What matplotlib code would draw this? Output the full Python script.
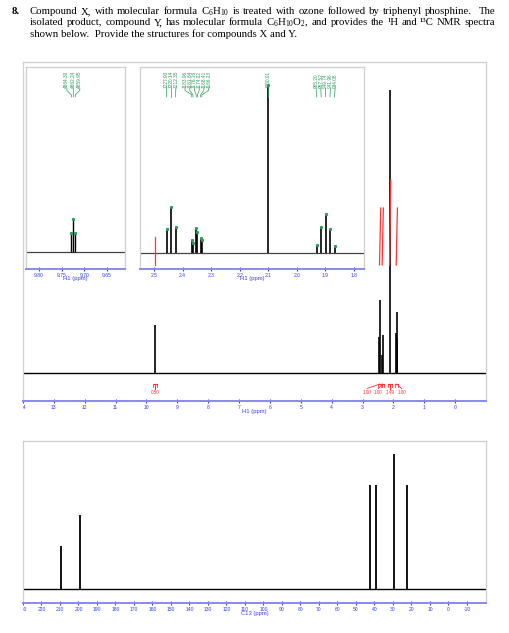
import matplotlib
matplotlib.use('Agg')
import matplotlib.pyplot as plt
from matplotlib.transforms import Bbox, TransformedBbox

plt.rcParams['font.family'] = ['Liberation Sans', 'DejaVu Sans']
plt.rcParams['mathtext.fontset'] = 'custom'
plt.rcParams['mathtext.rm'] = 'Liberation Serif'
plt.rcParams['mathtext.it'] = 'Liberation Serif:italic'

# 1H full spectrum (sticks, height in px above baseline)
h1_ppm = [9.724, 2.440, 2.456, 2.352, 2.372, 2.100, 1.899, 1.884, 1.915]
h1_height = [48, 73, 36, 38, 18, 283, 61, 35, 40]

# integrals
integ_center = [9.722, 2.440, 2.350, 2.100, 1.899]
integ_label = ['0.50', '1.00', '1.00', '1.49', '1.00']
integ_text_ppm = [9.72, 2.85, 2.49, 2.10, 1.73]
trace_ppm = [2.43, 2.345, 2.106, 1.89]
trace_top = [165, 165, 193, 165]

# insets: peak list in Hz at 500 MHz
freq = 500.0
ald_hz = [4864.30, 4862.24, 4859.95]
ald_height = [19, 33, 19]
ali_hz = [1227.93, 1220.14, 1212.35, 1183.96, 1181.84, 1176.16, 1174.02,
          1168.41, 1166.23, 1050.01, 965.20, 957.52, 949.74, 941.96, 934.08]
ali_height = [24, 46, 26, 13, 10, 25, 21, 15, 13, 168, 8, 26, 39, 24, 7]
ali_groups = [[0, 1, 2], [3, 4, 5, 6, 7, 8], [9], [10, 11, 12, 13, 14]]

# 13C
c13_ppm = [209.6, 199.2, 42.6, 39.4, 29.5, 22.4]
c13_height = [43, 74, 104, 104, 135, 104]

h1_ticks = list(range(14, -1, -1))
ald_ticks = [9.80, 9.75, 9.70, 9.65]
ali_ticks = [2.5, 2.4, 2.3, 2.2, 2.1, 2.0, 1.9, 1.8]
c13_ticks = list(range(230, -11, -10))

W, H = 509, 633
GREEN = '#2f9a5c'
RED = '#ff3535'
BLUE = '#3a3aee'
AXBLUE = '#8a8ae8'
GRAY = '#cfcfcf'
HEAD_FS = 7.75

fig = plt.figure(figsize=(W / 100, H / 100), dpi=100)


def box(x0, y0, x1, y1, z=1):
    return fig.add_axes([x0 / W, 1 - y1 / H, (x1 - x0) / W, (y1 - y0) / H], zorder=z)


def style(ax, ticks, labels, xlabel, fs=3.6, lpad=-1.5):
    for s in ['top', 'left', 'right']:
        ax.spines[s].set_color(GRAY)
        ax.spines[s].set_linewidth(0.9)
    ax.spines['bottom'].set_color(AXBLUE)
    ax.spines['bottom'].set_linewidth(1.4)
    ax.set_yticks([])
    ax.set_xticks(ticks)
    ax.set_xticklabels(labels)
    ax.tick_params(axis='x', direction='inout', length=3, width=0.8, color=BLUE,
                   labelsize=fs, labelcolor=BLUE, pad=1.5)
    ax.set_xlabel(xlabel, fontsize=fs + 0.6, color=BLUE, labelpad=lpad)
    clip = TransformedBbox(Bbox([[0, -1], [2, 0.1]]), ax.transAxes)
    for lab in ax.get_xticklabels():
        lab.set_clip_box(clip)
        lab.set_clip_on(True)


# header text, first two lines justified between x=30 and x=495
fig.text(12 / W, 1 - 11.5 / H, '8.', fontsize=HEAD_FS, family='Liberation Serif',
         fontweight='bold', va='center')
head = [r'Compound X, with molecular formula C$_{6}$H$_{10}$ is treated with ozone followed by triphenyl phosphine.  The',
        r'isolated product, compound Y, has molecular formula C$_{6}$H$_{10}$O$_{2}$, and provides the ¹H and ¹³C NMR spectra',
        'shown below.  Provide the structures for compounds X and Y.']
renderer = fig.canvas.get_renderer()
for i, line in enumerate(head):
    y = 1 - (11.5 + 11.2 * i) / H
    if i == 2:
        fig.text(30 / W, y, line, fontsize=HEAD_FS, family='Liberation Serif', va='center')
        continue
    words, units = [], []
    for tok in line.split(' '):
        if tok == '':
            units[-1] += 1
            continue
        words.append(fig.text(0, y, tok, fontsize=HEAD_FS, family='Liberation Serif',
                              va='center'))
        units.append(1)
    widths = [t.get_window_extent(renderer).width for t in words]
    gap = (465 - sum(widths)) / sum(units[:-1])
    x = 30.0
    for t, w, u in zip(words, widths, units):
        t.set_x(x / W)
        x += w + gap * u

# main 1H
ax = box(23, 62, 486, 401)
ax.set_xlim(14, -1)
ax.set_ylim(-28, 311)
ax.axhline(0, color='black', lw=1.0)
ax.vlines(h1_ppm, 0, h1_height, color='black', lw=1.2)
style(ax, h1_ticks, [str(t) for t in h1_ticks], 'H1 (ppm)', lpad=-1.2)

for p, t in zip(trace_ppm, trace_top):
    ax.plot([p + 0.02, p - 0.02], [108, t], color=RED, lw=0.9)
for c, lab, tp in zip(integ_center, integ_label, integ_text_ppm):
    ax.text(tp, -20, lab, fontsize=3.3, color=RED, ha='center', va='center')
    ax.plot([c - 0.06, c + 0.06], [-11, -11], color=RED, lw=0.8)
    ax.plot([c + 0.06, c + 0.06], [-11, -13.5], color=RED, lw=0.6)
    ax.plot([c - 0.06, c - 0.06], [-11, -13.5], color=RED, lw=0.6)
    if abs(tp - c) > 0.05:
        ax.plot([tp, c], [-15.5, -11], color=RED, lw=0.6)
    else:
        ax.plot([c, c], [-11, -15.5], color=RED, lw=0.8)


def peak_labels(ax, ppm, hz, groups, step):
    tr = ax.get_xaxis_transform()
    for g in groups:
        mid = sum(ppm[i] for i in g) / len(g)
        for k, i in enumerate(g):
            lx = mid + ((len(g) - 1) / 2 - k) * step
            ax.text(lx, 0.896, '%.2f' % hz[i], rotation=90, fontsize=3.4,
                    color=GREEN, ha='center', va='bottom', transform=tr)
            ax.plot([lx, lx, ppm[i], ppm[i]], [0.894, 0.884, 0.862, 0.852],
                    color=GREEN, lw=0.5, transform=tr)


# aldehyde inset
ald_ppm = [v / freq for v in ald_hz]
ax1 = box(26, 67, 125, 269, z=3)
ax1.set_xlim(9.829, 9.610)
ax1.set_ylim(-17, 185)
ax1.axhline(0, color='#444444', lw=0.9)
ax1.vlines(ald_ppm, 0, ald_height, color='black', lw=1.0)
ax1.plot(ald_ppm, ald_height, 's', ms=1.2, color=GREEN)
style(ax1, ald_ticks, ['%.2f' % t for t in ald_ticks], 'H1 (ppm)', lpad=-1.3)
peak_labels(ax1, ald_ppm, ald_hz, [[0, 1, 2]], 0.0143)

# aliphatic inset
ali_ppm = [v / freq for v in ali_hz]
ax2 = box(140, 67, 364, 269, z=3)
ax2.set_xlim(2.549, 1.765)
ax2.set_ylim(-16, 186)
ax2.axhline(0, color='#444444', lw=0.9)
ax2.vlines(ali_ppm, 0, ali_height, color='black', lw=1.2)
ax2.plot(ali_ppm, ali_height, 's', ms=1.2, color=GREEN)
ax2.plot([2.497, 2.497], [-12, 16], color=RED, lw=0.9)
style(ax2, ali_ticks, ['%.1f' % t for t in ali_ticks], 'H1 (ppm)', lpad=-1.3)
peak_labels(ax2, ali_ppm, ali_hz, ali_groups, 0.0165)

# 13C
ax3 = box(23, 441, 486, 603)
ax3.set_xlim(230, -20.3)
ax3.set_ylim(-14, 148)
ax3.axhline(0, color='black', lw=1.0)
ax3.vlines(c13_ppm, 0, c13_height, color='black', lw=1.3)
style(ax3, c13_ticks, [str(t) for t in c13_ticks], 'C13 (ppm)', lpad=-0.8)

fig.savefig('out.png', dpi=100)
